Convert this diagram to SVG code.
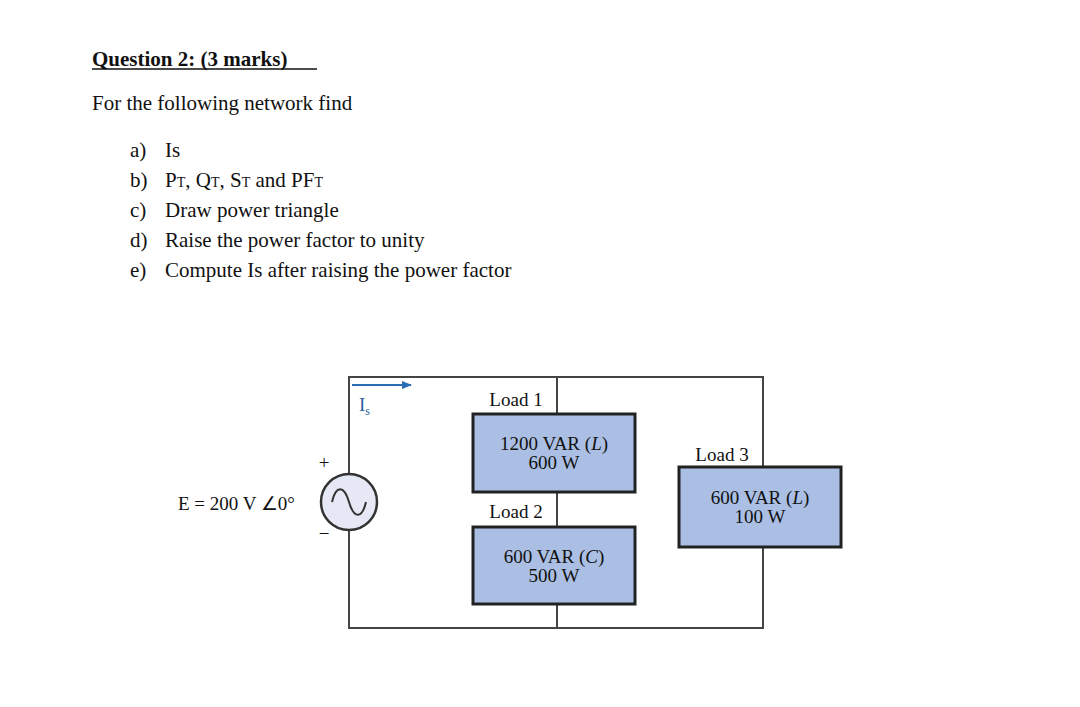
<svg xmlns="http://www.w3.org/2000/svg" width="1080" height="707" viewBox="0 0 1080 707">
<style>
text{font-family:"Liberation Serif",serif;fill:#111}
.q{font-size:21px}
.c{font-size:19px;text-anchor:middle}
.w{stroke:#444;stroke-width:2;fill:none}
.box{fill:#aabfe3;stroke:#222;stroke-width:3}
</style>
<defs><marker id="ar" markerWidth="10" markerHeight="8" refX="9" refY="4" orient="auto" markerUnits="userSpaceOnUse"><path d="M0,0L10,4L0,8z" fill="#2a6db5"/></marker></defs>
<rect width="1080" height="707" fill="#fff"/>
<text x="92" y="66" class="q" font-weight="bold">Question 2: (3 marks)</text>
<line x1="92" y1="69" x2="317" y2="69" stroke="#111" stroke-width="1.5"/>
<text x="92" y="110" class="q">For the following network find</text>
<text x="130" y="157" class="q">a)</text><text x="165" y="157" class="q">Is</text>
<text x="130" y="187" class="q">b)</text><text x="165" y="187" class="q">P<tspan font-size="14">T</tspan>, Q<tspan font-size="14">T</tspan>, S<tspan font-size="14">T</tspan> and PF<tspan font-size="14">T</tspan></text>
<text x="130" y="217" class="q">c)</text><text x="165" y="217" class="q">Draw power triangle</text>
<text x="130" y="247" class="q">d)</text><text x="165" y="247" class="q">Raise the power factor to unity</text>
<text x="130" y="277" class="q">e)</text><text x="165" y="277" class="q">Compute Is after raising the power factor</text>
<g id="wires">
<path class="w" d="M349,474V377H763V467M763,547V628H349V530"/>
<path class="w" d="M557,377V414M557,492V527M557,604V628"/>
<line x1="352" y1="385" x2="411" y2="385" stroke="#2a6db5" stroke-width="2" marker-end="url(#ar)"/>
</g>
<g id="source">
<circle cx="349" cy="502" r="28" fill="#e6e9f5" stroke="#333" stroke-width="2.5"/>
<path d="M332,502C336,485 344,485 349,502S362,519 366,502" fill="none" stroke="#333" stroke-width="2"/>
<text x="324" y="469" class="c">+</text>
<text x="324" y="540" class="c">−</text>
<text x="178" y="510" font-size="19">E = 200 V ∠0°</text>
<text x="359" y="411" font-size="19" fill="#2a5fa0" style="fill:#2a5fa0">I<tspan font-size="12" dy="4">s</tspan></text>
</g>
<g id="load1"><text x="516" y="406" class="c">Load 1</text><rect class="box" x="473" y="414" width="162" height="78"/><text x="554" y="450" class="c">1200 VAR (<tspan font-style="italic">L</tspan>)</text><text x="554" y="469" class="c">600 W</text></g>
<g id="load2"><text x="516" y="518" class="c">Load 2</text><rect class="box" x="473" y="527" width="162" height="77"/><text x="554" y="563" class="c">600 VAR (<tspan font-style="italic">C</tspan>)</text><text x="554" y="582" class="c">500 W</text></g>
<g id="load3"><text x="722" y="461" class="c">Load 3</text><rect class="box" x="679" y="467" width="162" height="80"/><text x="760" y="504" class="c">600 VAR (<tspan font-style="italic">L</tspan>)</text><text x="760" y="523" class="c">100 W</text></g>
</svg>
